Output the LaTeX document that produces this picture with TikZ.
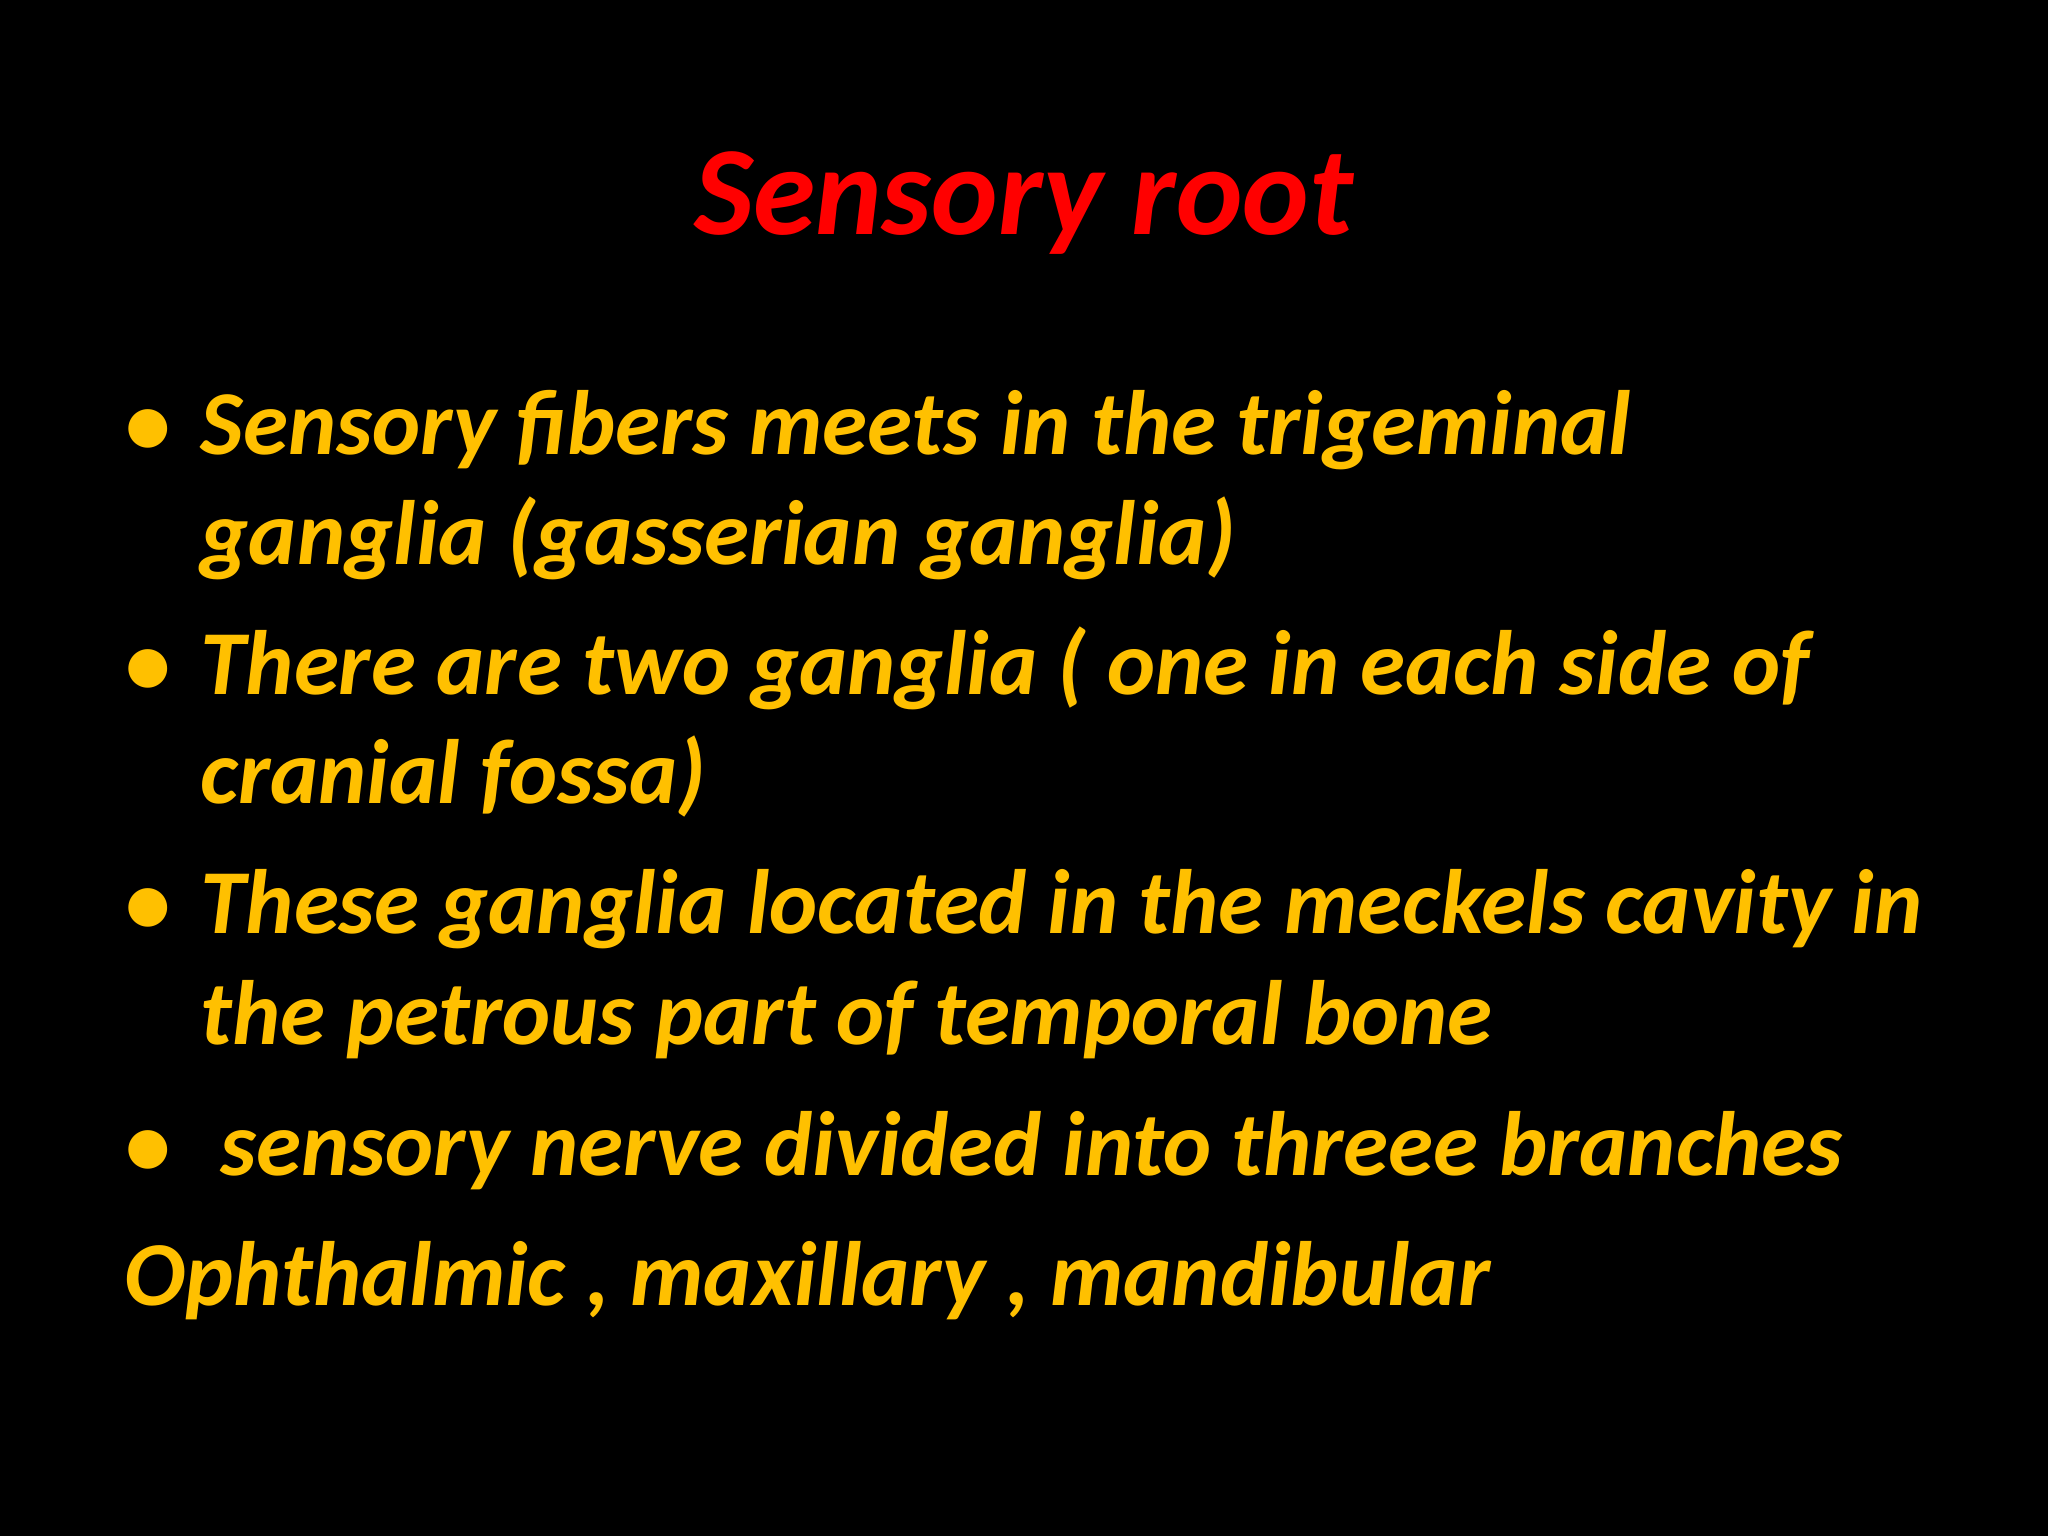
\documentclass[tikz,border=0pt]{standalone}
\usepackage{fontspec}
\setmainfont{Carlito}
\definecolor{slidered}{RGB}{255,0,0}
\definecolor{slideyellow}{RGB}{255,192,0}
\tikzset{
  line/.style={anchor=base west,inner sep=0pt,text=slideyellow,font=\fontsize{26}{31}\selectfont\bfseries\itshape},
  dot/.style={anchor=base west,inner sep=0pt,text=slideyellow,font=\fontsize{26}{31}\selectfont\bfseries}
}
\begin{document}
\begin{tikzpicture}
\fill[black] (0,0) rectangle (20.48,15.36);
\useasboundingbox (0,0) rectangle (20.48,15.36);
\node[anchor=base,inner sep=0pt,text=slidered,font=\fontsize{36}{43}\selectfont\bfseries\itshape] (title) at (10.24,13.01) {Sensory root};
\node[dot] (b1) at (1.25,10.815) {•};
\node[line] (l1) at (2.0,10.815) {Sensory fibers meets in the trigeminal};
\node[line] (l2) at (2.0,9.718) {ganglia (gasserian ganglia)};
\node[dot] (b2) at (1.25,8.412) {•};
\node[line] (l3) at (2.0,8.412) {There are two ganglia ( one in each side of};
\node[line] (l4) at (2.0,7.328) {cranial fossa)};
\node[dot] (b3) at (1.25,6.022) {•};
\node[line] (l5) at (2.0,6.022) {These ganglia located in the meckels cavity in};
\node[line] (l6) at (2.0,4.912) {the petrous part of temporal bone};
\node[dot] (b4) at (1.25,3.606) {•};
\node[line] (l7) at (2.2,3.606) {sensory nerve divided into threee branches};
\node[line] (l8) at (1.24,2.30) {Ophthalmic , maxillary , mandibular};
\end{tikzpicture}
\end{document}
